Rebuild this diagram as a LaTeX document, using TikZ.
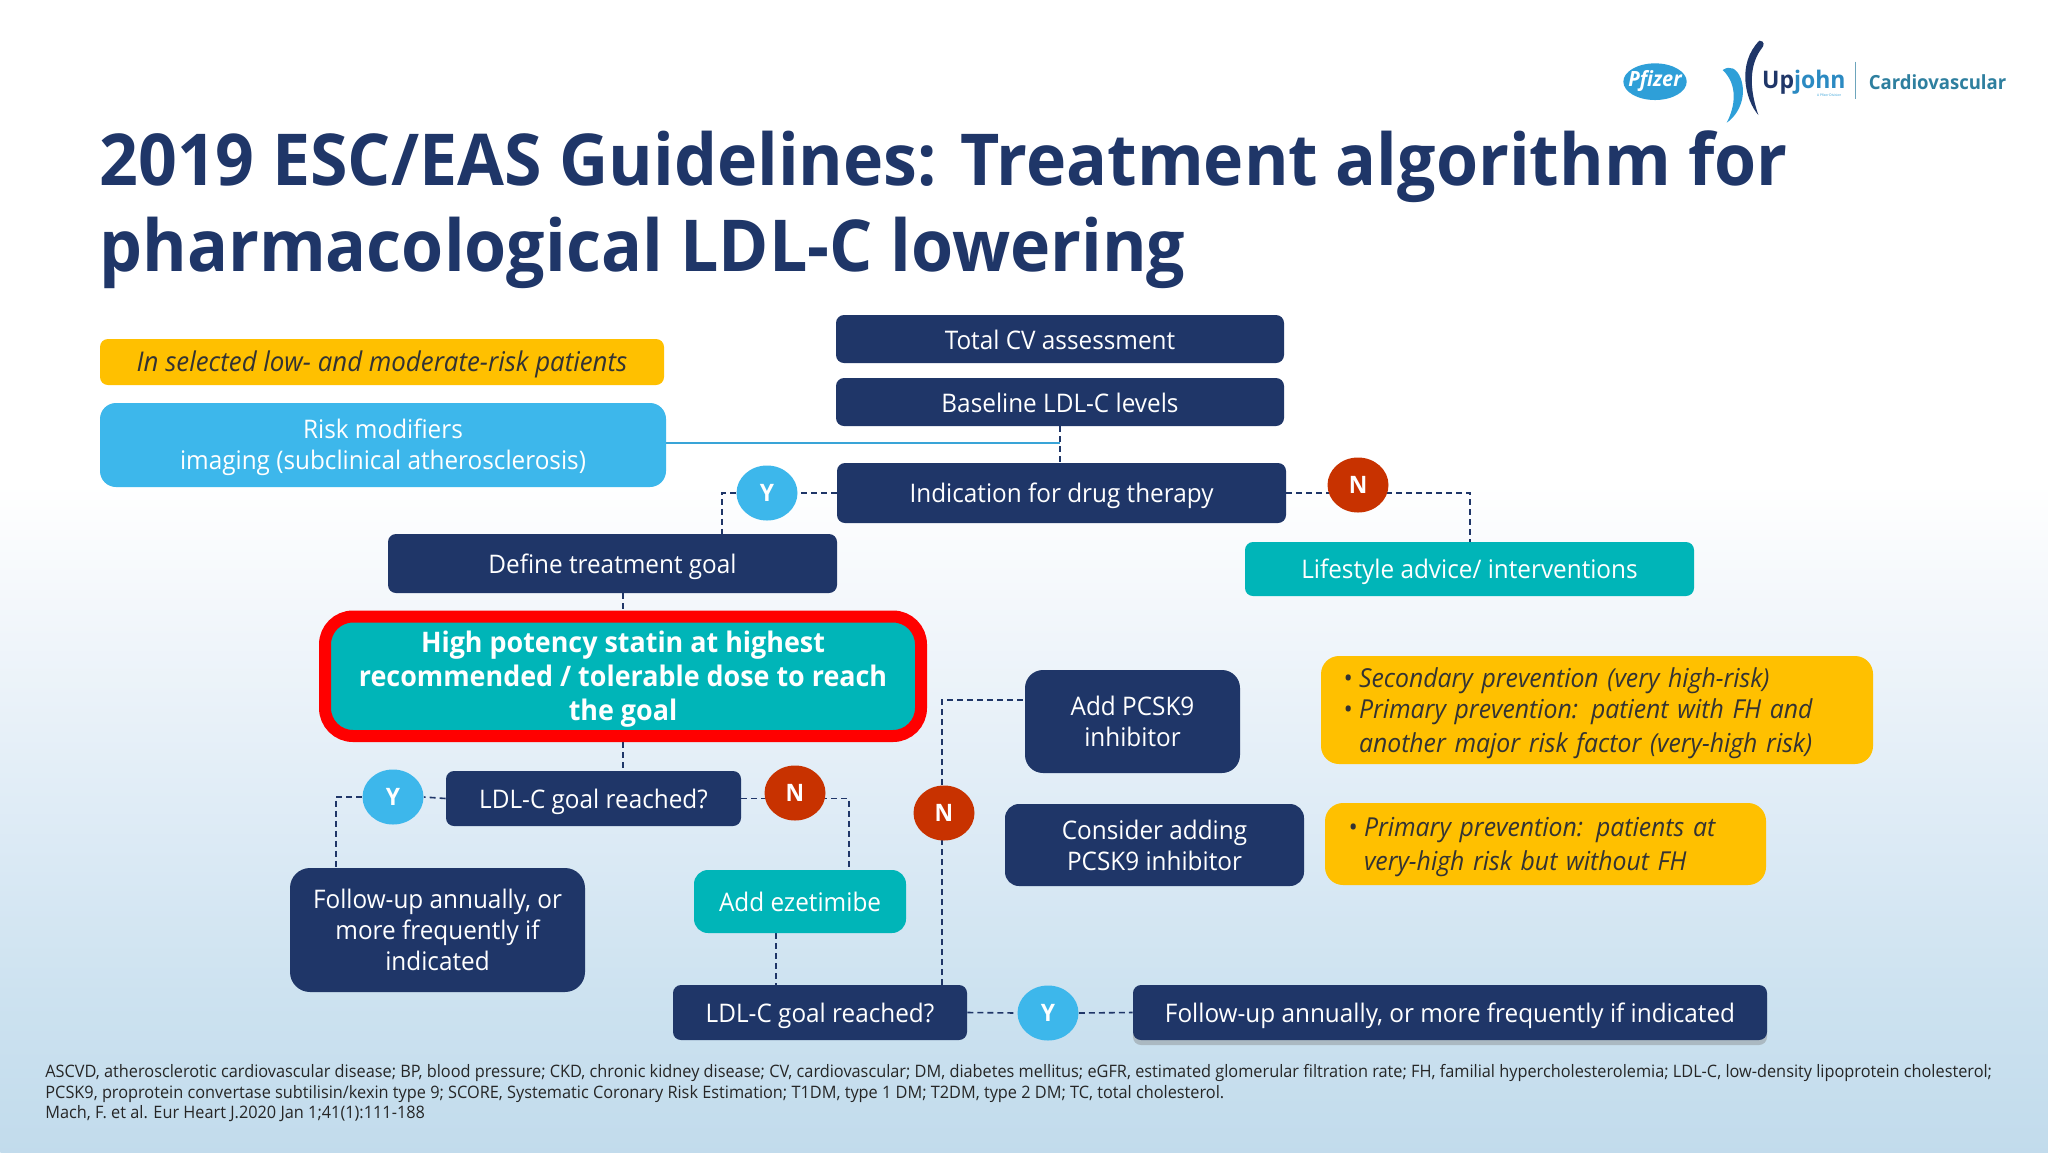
\documentclass[tikz,border=0pt]{standalone}
\usepackage{fontspec}
\setmainfont[FakeStretch=0.95]{Open Sans}
\usetikzlibrary{backgrounds,shadows,shapes.geometric}
\definecolor{navy}{HTML}{1F3668}
\definecolor{teal}{HTML}{00B5B8}
\definecolor{sky}{HTML}{3DB7EB}
\definecolor{amber}{HTML}{FFC000}
\definecolor{nred}{HTML}{C83200}
\definecolor{logoblue}{HTML}{2E9FD8}
\definecolor{cardio}{HTML}{2E7F9F}
\pgfdeclareverticalshading{slidebg}{100bp}{
  rgb(0bp)=(0.76,0.86,0.925);
  rgb(25bp)=(0.76,0.86,0.925);
  rgb(31.5bp)=(0.80,0.885,0.94);
  rgb(40bp)=(0.875,0.925,0.965);
  rgb(49bp)=(0.955,0.97,0.985);
  rgb(54bp)=(1,1,1);
  rgb(100bp)=(1,1,1)}
\newcommand{\bx}[7][]{%
  \pgfmathsetmacro{\bxw}{(#5-#3)/2}%
  \pgfmathsetmacro{\bxh}{(#6-#4)/2}%
  \pgfmathsetmacro{\bxx}{(#5+#3)/2}%
  \pgfmathsetmacro{\bxy}{(#6+#4)/2}%
  \node[#1,minimum width=\bxw pt,minimum height=\bxh pt] (#2) at (\bxx,\bxy) {#7};}
\newcommand{\lineup}{\rule[-0.17\baselineskip]{0pt}{\baselineskip}}
\tikzset{
  card/.style={inner sep=0pt,align=center,text=white,rounded corners=4pt,
    font=\fontsize{12.8}{15.5}\selectfont,
    execute at begin node=\lineup,execute at end node=\lineup},
  multiline/.style={execute at begin node=\rule{0pt}{#1}},
  navybox/.style={card,fill=navy},
  tealbox/.style={card,fill=teal},
  skybox/.style={card,fill=sky},
  amberbox/.style={card,fill=amber,text=black!80,rounded corners=9pt,align=left,
    font=\fontsize{13.05}{15.5}\selectfont\itshape},
  badge/.style={ellipse,inner sep=0pt,minimum width=30.5pt,minimum height=27.5pt,text=white,
    font=\fontsize{12}{14}\selectfont\bfseries},
  ybadge/.style={badge,fill=sky},
  nbadge/.style={badge,fill=nred},
  link/.style={draw=navy,line width=0.8pt,dash pattern=on 3pt off 2pt},
  titletext/.style={inner sep=0pt,anchor=base west,text=navy,font=\fontsize{35.8}{40}\selectfont\bfseries},
  foot/.style={inner sep=0pt,anchor=base west,text=black!85,font=\fontsize{8.58}{10}\selectfont},
}
\newcommand{\hangb}{\makebox[8pt][l]{\textbullet}}
\begin{document}
\begin{tikzpicture}[x=0.5pt,y=-0.5pt]
\useasboundingbox (0,0) rectangle (2048,1152);
\begin{pgfonlayer}{background}
\node[inner sep=0pt,minimum width=1024pt,minimum height=576pt,shading=slidebg,anchor=north west] (bg) at (0,0) {};
\end{pgfonlayer}

% title
\node[titletext] (t1) at (99,185) {2019 ESC/EAS Guidelines: Treatment algorithm for};
\node[titletext] (t2) at (99,271) {pharmacological LDL-C lowering};

% logo
\begin{scope}[shift={(1560,20)},x=0.1667pt,y=-0.1667pt]
\fill[logoblue] (285,185) ellipse [x radius=95,y radius=55];
\node[text=white,inner sep=0pt,font=\fontsize{10.5}{11}\selectfont\bfseries\itshape] (pf) at (285,183) {Pfizer};
\fill[navy] (598,62) .. controls (615,62) and (612,78) .. (605,85)
  .. controls (570,130) and (565,200) .. (595,285)
  .. controls (555,240) and (530,130) .. (598,62) -- cycle;
\fill[logoblue] (488,150) .. controls (510,135) and (530,145) .. (542,175)
  .. controls (560,225) and (540,280) .. (500,308)
  .. controls (525,260) and (535,195) .. (488,150) -- cycle;
\node[anchor=base west,inner sep=0pt,font=\fontsize{12.1}{13}\selectfont\bfseries] (uj) at (605,205) {\textcolor{navy}{Up}\textcolor{logoblue!80!navy}{john}};
\node[anchor=base east,inner sep=0pt,text=logoblue,font=\fontsize{1.7}{2}\selectfont] (ujs) at (845,228) {A Pfizer Division};
\draw[cardio!70,line width=0.5pt] (885,125) -- (885,238);
\node[anchor=base west,inner sep=0pt,text=cardio,font=\fontsize{9.75}{12}\selectfont\bfseries] (cv) at (925,208) {Cardiovascular};
\end{scope}

% boxes
\bx[amberbox,align=center,rounded corners=4pt,font=\fontsize{13.6}{15.5}\selectfont\itshape]{sel}{100}{339}{664}{385}{In selected low- and moderate-risk patients}
\bx[skybox,multiline=28pt,rounded corners=8pt]{risk}{100}{403}{666}{487}{Risk modifiers\\imaging (subclinical atherosclerosis)}
\bx[navybox]{total}{836}{315}{1284}{363}{Total CV assessment}
\bx[navybox]{base}{836}{378}{1284}{426}{Baseline LDL-C levels}
\bx[navybox]{ind}{837}{463}{1286}{523}{Indication for drug therapy}
\bx[navybox]{goal}{388}{534}{837}{593}{Define treatment goal}
\bx[tealbox]{life}{1245}{542}{1694}{596}{Lifestyle advice/ interventions}
\bx[navybox]{ldla}{446}{771}{741}{826}{LDL-C goal reached?}
\bx[navybox,multiline=43.3pt,rounded corners=10pt]{fua}{290}{868}{585}{992}{Follow-up annually, or\\more frequently if\\indicated}
\bx[tealbox,rounded corners=7pt]{eze}{694}{870}{906}{933}{Add ezetimibe}
\bx[navybox]{ldlb}{673}{985}{967}{1040}{LDL-C goal reached?}
\bx[navybox,multiline=28pt,rounded corners=9pt]{add}{1025}{670}{1240}{773}{Add PCSK9\\inhibitor}
\bx[navybox,multiline=28pt,rounded corners=7pt]{cons}{1005}{804}{1304}{886}{Consider adding\\PCSK9 inhibitor}
\bx[navybox,drop shadow={shadow xshift=0pt,shadow yshift=-2.5pt,opacity=0.4}]{fub}{1133}{985}{1767}{1040}{Follow-up annually, or more frequently if indicated}
\bx[amberbox,inner xsep=11pt,text width=254pt]{amba}{1321}{656}{1873}{764}{\hangb Secondary prevention (very high-risk)\\\hangb Primary prevention: patient with FH and\\\hspace*{8pt}another major risk factor (very-high risk)}
\bx[amberbox,inner xsep=11.5pt,text width=197.5pt]{ambb}{1325}{803}{1766}{885}{\hangb Primary prevention: patients at\\\hspace*{8pt}very-high risk but without FH}

% highlighted statin box
\bx[tealbox,multiline=47.8pt,draw=red,line width=6pt,rounded corners=14pt,font=\fontsize{14.15}{17}\selectfont\bfseries]{statin}{325}{616.5}{921}{736}{High potency statin at highest\\recommended / tolerable dose to reach\\the goal}

% badges
\node[ybadge] (ya) at (767,493) {Y};
\node[nbadge] (na) at (1358,485) {N};
\node[ybadge] (yb) at (393,797) {Y};
\node[nbadge] (nb) at (795,793) {N};
\node[nbadge] (nc) at (944,813) {N};
\node[ybadge] (yc) at (1048,1013) {Y};

% connector free ends
\coordinate (c1) at (722,534);
\coordinate (c2) at (1470,542);
\coordinate (c3) at (336,868);
\coordinate (c4) at (849,870);
\coordinate (c5) at (776,985);
\coordinate (c6) at (942,985);
\coordinate (c7) at (942,700);
\coordinate (c8) at (1025,700);
\coordinate (j) at (1060,443);

\begin{pgfonlayer}{background}
\draw[sky!85!navy,line width=1.4pt] (risk.east |- j) -- (j);
\draw[link] (base.south -| j) -- (ind.north -| j);
\draw[link] (ind.west) -- (ya.east);
\draw[link] (ya.west) -| (c1);
\draw[link] (ind.east) -- (ind.east -| c2) -- (c2);
\draw[link] (goal.south -| statin.north) -- (statin.north);
\draw[link] (statin.south) -- (ldla.north -| statin.south);
\draw[link] (ldla.west) -- (yb.east);
\draw[link] (yb.west) -| (c3);
\draw[link] (ldla.east) -- (ldla.east -| c4) -- (c4);
\draw[link] (eze.south -| c5) -- (c5);
\draw[link] (c6) -- (c7) -- (c8);
\draw[link] (ldlb.east) -- (yc.west);
\draw[link] (yc.east) -- (fub.west);
\end{pgfonlayer}

% footnotes
\node[foot] (f1) at (45,1077) {ASCVD, atherosclerotic cardiovascular disease; BP, blood pressure; CKD, chronic kidney disease; CV, cardiovascular; DM, diabetes mellitus; eGFR, estimated glomerular filtration rate; FH, familial hypercholesterolemia; LDL-C, low-density lipoprotein cholesterol;};
\node[foot] (f2) at (45,1098) {PCSK9, proprotein convertase subtilisin/kexin type 9; SCORE, Systematic Coronary Risk Estimation; T1DM, type 1 DM; T2DM, type 2 DM; TC, total cholesterol.};
\node[foot] (f3) at (45,1118) {Mach, F. et al. Eur Heart J.2020 Jan 1;41(1):111-188};
\end{tikzpicture}
\end{document}
